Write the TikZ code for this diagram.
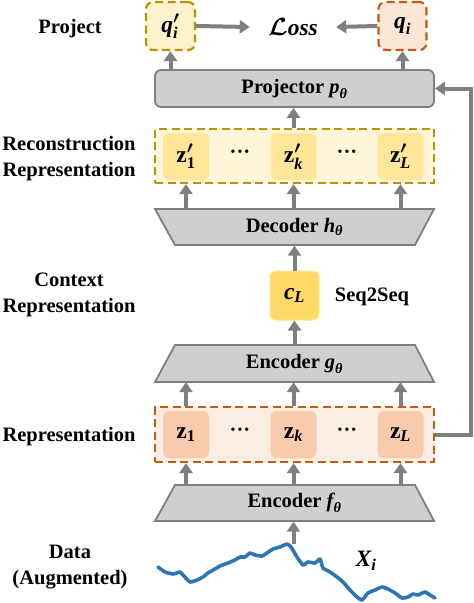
\documentclass[tikz,border=0pt]{standalone}
\usepackage{fontspec}
\setmainfont{Liberation Serif}
\usepackage{amsmath,bm}
\usetikzlibrary{arrows.meta,calc}
\definecolor{grayfill}{HTML}{D0CECE}
\definecolor{grayline}{HTML}{7F7F7F}
\definecolor{ydark}{HTML}{BF9000}
\definecolor{ylight}{HTML}{FFF2CC}
\definecolor{youter}{HTML}{FFF5D9}
\definecolor{ymid}{HTML}{FFE699}
\definecolor{ygold}{HTML}{FFD966}
\definecolor{odark}{HTML}{C55A11}
\definecolor{olight}{HTML}{FBE5D6}
\definecolor{oouter}{HTML}{FCEDE3}
\definecolor{omid}{HTML}{F8CBAD}
\definecolor{curveblue}{HTML}{2E75B6}
\newcommand\vi[1]{\textit{#1}}
\newcommand\pr{^{\bm\prime}}
\newcommand\dotsrow{\textperiodcentered\textperiodcentered\textperiodcentered}
\tikzset{
  txt/.style={font=\fontsize{20.5}{26}\selectfont\bfseries, inner sep=0pt, align=center},
  big/.style={font=\fontsize{23.5}{26}\selectfont\bfseries},
  arr/.style={draw=grayline, line width=4pt, -{Triangle[width=13pt,length=10pt]}},
  graybox/.style={txt, draw=grayline, line width=1.8pt, fill=grayfill, rounded corners=6pt, minimum width=279pt, minimum height=37pt},
  ydash/.style={draw=ydark, line width=2.2pt, dash pattern=on 8pt off 4.5pt},
  odash/.style={draw=odark, line width=2.2pt, dash pattern=on 8pt off 4.5pt},
  cell/.style={txt, big, rounded corners=6pt, minimum width=46pt, minimum height=47pt},
  trap/.style={draw=grayline, line width=1.8pt, fill=grayfill},
  hold/.style={txt, minimum height=37pt, minimum width=240pt},
}
\begin{document}
\begin{tikzpicture}[x=1pt,y=-1pt]
\useasboundingbox (0,0) rectangle (474,603);

% ---- labels
\node[txt] (lproj) at (70,28.5) {Project};
\node[txt] (lrecon) at (69,158.5) {Reconstruction\\Representation};
\node[txt] (lctx) at (69,294.5) {Context\\Representation};
\node[txt] (lrep) at (69,437) {Representation};
\node[txt] (ldata) at (70,567.5) {Data\\(Augmented)};
\node[txt] (lseq) at (372,297) {Seq2Seq};

% ---- project row
\node[cell, ydash, fill=ylight, rounded corners=7pt, minimum width=49pt, minimum height=48pt] (qp) at (170.5,26) {$\vi{q}\pr_{\vi{i}}$};
\node[cell, odash, fill=olight, rounded corners=7pt, minimum width=48pt, minimum height=48pt] (q) at (402.5,26) {$\vi{q}_{\vi{i}}$};
\node[txt, big, minimum width=86pt, minimum height=20pt] (loss) at (293,27) {$\bm{\mathcal{L}}$\vi{oss}};

% ---- projector
\node[graybox] (proj) at (294.5,88.5) {Projector $\vi{p}_{\vi{θ}}$};

% ---- reconstruction representation
\node[ydash, fill=youter, minimum width=279pt, minimum height=54pt, inner sep=0pt] (recon) at (294.5,156) {};
\node[cell, fill=ymid] (zp1) at (186,156.5) {$\textbf{z}\pr_{\textbf{1}}$};
\node[cell, fill=ymid] (zpk) at (293.5,156.5) {$\textbf{z}\pr_{\vi{k}}$};
\node[cell, fill=ymid] (zpL) at (400.5,156.5) {$\textbf{z}\pr_{\vi{L}}$};
\node[txt] (dp1) at (240,154) {\dotsrow};
\node[txt] (dp2) at (347,154) {\dotsrow};

% ---- decoder
\draw[trap] (155,209) -- (434,209) -- (415,245) -- (175,245) -- cycle;
\node[hold] (dec) at (294.5,227) {Decoder $\vi{h}_{\vi{θ}}$};

% ---- context
\node[cell, fill=ygold, draw=ymid, line width=1pt, minimum width=49pt, minimum height=49pt] (cL) at (294.5,295.5) {$\vi{c}_{\vi{L}}$};

% ---- encoder g
\draw[trap] (175,345) -- (415,345) -- (434,382) -- (155,382) -- cycle;
\node[hold] (encg) at (294.5,363.5) {Encoder $\vi{g}_{\vi{θ}}$};

% ---- representation
\node[odash, fill=oouter, minimum width=279pt, minimum height=55pt, inner sep=0pt] (rep) at (294.5,434.5) {};
\node[cell, fill=omid] (z1) at (186,434.5) {$\textbf{z}_{\textbf{1}}$};
\node[cell, fill=omid] (zk) at (293.5,434.5) {$\textbf{z}_{\vi{k}}$};
\node[cell, fill=omid] (zL) at (400.5,434.5) {$\textbf{z}_{\vi{L}}$};
\node[txt] (d1) at (240,432) {\dotsrow};
\node[txt] (d2) at (347,432) {\dotsrow};

% ---- encoder f
\draw[trap] (175,485) -- (415,485) -- (434,521) -- (155,521) -- cycle;
\node[hold] (encf) at (294.5,503) {Encoder $\vi{f}_{\vi{θ}}$};

% ---- data curve
\draw[curveblue, line width=3.6pt, line join=round, line cap=round]
 plot[smooth, tension=0.3] coordinates {
 (158,567) (165,572) (173,574) (180,572) (183,575) (190,582) (197,580) (203,577)
 (208,573) (215,569) (220,566) (228,563) (235,560) (240,557) (245,557) (250,553)
 (255,555) (262,556) (267,553) (273,549) (280,547) (287,544) (291,547) (297,557)
 (303,565) (308,562) (315,563) (320,559) (323,568) (330,572) (337,577) (343,582)
 (350,590) (357,597) (362,600) (368,593) (375,590) (382,587) (388,589) (395,593)
 (402,598) (408,597) (413,594) (418,595) (425,592) (430,595) (435,598)};
\coordinate (peak) at (293.5,544);
\node[txt, big] (xi) at (366,561) {$\vi{X}_{\vi{i}}$};

% ---- arrows
\draw[arr] (qp.east) -- (loss.west);
\draw[arr] (q.west) -- (loss.east);
\draw[arr] (qp.south |- proj.north) -- (qp.south);
\draw[arr] (q.south |- proj.north) -- (q.south);
\draw[arr] (recon.north -| zpk) -- (proj.south -| zpk);
\foreach \n in {zp1,zpk,zpL} \draw[arr] (dec.north -| \n) -- (recon.south -| \n);
\draw[arr] (cL.north) -- (dec.south -| cL);
\draw[arr] (encg.north -| cL) -- (cL.south);
\foreach \n in {z1,zk,zL} \draw[arr] (rep.north -| \n) -- (encg.south -| \n);
\foreach \n in {z1,zk,zL} \draw[arr] (encf.north -| \n) -- (rep.south -| \n);
\draw[arr] (peak) -- (encf.south -| peak);
\coordinate (fbb) at (471,434.5);
\coordinate (fbt) at (471,88.5);
\draw[arr] (rep.east) -- (fbb) -- (fbt) -- (proj.east);
\end{tikzpicture}
\end{document}
